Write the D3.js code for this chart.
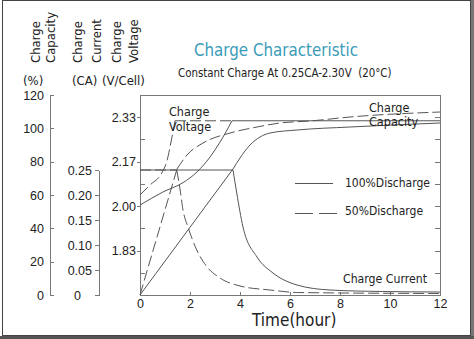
<!DOCTYPE html>
<html lang="en">
<head>
<meta charset="UTF-8">
<title>Charge Characteristic</title>
<style>
	body { margin: 0; background: #fff; }
	svg { display: block; font-family: "DejaVu Sans Condensed", "Liberation Sans", sans-serif; }
	.ax path, .ax line { stroke: #777; shape-rendering: crispEdges; }
	.ax text { fill: #222; font-size: 12.5px; font-family: inherit; }
	.box { fill: none; stroke: #777; shape-rendering: crispEdges; }
	.curve { fill: none; stroke: #555; stroke-width: 1; }
	.dash { stroke-dasharray: 11,4; }
	.lbl { fill: #222; font-size: 12.5px; }
</style>
</head>
<body>
<svg id="chart" width="474" height="339"></svg>
<script src="https://d3js.org/d3.v7.min.js"></script>
<script>
	// tick values
	var timeTicks = [0, 2, 4, 6, 8, 10, 12];
	var capacityTicks = [0, 20, 40, 60, 80, 100, 120];
	var currentTicks = [0, 0.05, 0.10, 0.15, 0.20, 0.25];
	var voltageTicks = [11 / 6, 2, 13 / 6, 7 / 3];      // 1.83 2.00 2.17 2.33
	var voltageMinor = [7 / 4, 23 / 12, 25 / 12, 9 / 4];

	// [hour, value]
	// charge voltage (V/cell)
	var volt100 = [[0, 2.004], [0.92, 2.053], [1.72, 2.088], [2.28, 2.128], [2.8, 2.184], [3.2, 2.24], [3.68, 2.32]];
	var volt100Flat = [[3.68, 2.32], [12, 2.32]];
	var volt50 = [[0, 2.042], [0.4, 2.079], [0.87, 2.124], [1.07, 2.167], [1.27, 2.255], [1.4, 2.32]];
	var volt50Flat = [[1.4, 2.32], [3.68, 2.32]];

	// charge current (CA)
	var cur100Flat = [[0, 0.25], [3.72, 0.25]];
	var cur100 = [[3.72, 0.25], [3.87, 0.204], [4.12, 0.136], [4.68, 0.076], [5.32, 0.044], [6.28, 0.02], [7.6, 0.01], [9.7, 0.007], [12, 0.006]];
	var cur50Flat = [[0, 0.25], [1.47, 0.25]];
	var cur50 = [[1.47, 0.25], [1.6, 0.212], [1.72, 0.17], [1.92, 0.136], [2.27, 0.09], [2.67, 0.057], [3.2, 0.034], [4.0, 0.018], [5.2, 0.01], [6.3, 0.005], [12, 0.003]];

	// charge capacity (%)
	var cap100Rise = [[0, 0], [3.72, 75.6]];
	var cap100 = [[3.72, 75.6], [4.0, 82.2], [4.4, 90], [4.8, 94.8], [5.2, 97.2], [6.28, 99], [8.4, 100.8], [12, 103.2]];
	var cap50Rise = [[0, 0], [1.48, 75.6]];
	var cap50 = [[1.48, 75.6], [1.88, 84], [2.52, 91.2], [3.6, 97.2], [4.68, 100.8], [5.6, 103.2], [6.8, 104.4], [8.4, 106.8], [12, 109.8]];

	(function chart() {
		var svg = d3.select("#chart");

		// frame
		svg.append("rect").attr("x", 0).attr("y", 0).attr("width", 474).attr("height", 339).attr("fill", "#fff");
		svg.append("rect").attr("x", 2.5).attr("y", 0.5).attr("width", 468).attr("height", 335)
			.attr("fill", "none").attr("stroke", "#444");
		svg.append("rect").attr("x", 471).attr("y", 0).attr("width", 3).attr("height", 339).attr("fill", "#777");
		svg.append("rect").attr("x", 0).attr("y", 336).attr("width", 474).attr("height", 3).attr("fill", "#555");

		var pLeft = 140, pRight = 440, pTop = 95, pBottom = 295;

		var x = d3.scaleLinear().domain([0, 12]).range([pLeft, pRight]);
		var yCap = d3.scaleLinear().domain([0, 120]).range([pBottom, pTop]);
		var yCur = d3.scaleLinear().domain([0, 0.25]).range([pBottom, 170]);
		var yVolt = d3.scaleLinear().domain([5 / 3, 29 / 12]).range([pBottom, pTop]);

		// plot box
		svg.append("rect").attr("class", "box")
			.attr("x", pLeft + 0.5).attr("y", pTop + 0.5)
			.attr("width", pRight - pLeft).attr("height", pBottom - pTop);

		// capacity axis
		svg.append("g").attr("class", "ax")
			.attr("transform", "translate(50,0)")
			.call(d3.axisLeft(yCap).tickValues(capacityTicks).tickSizeInner(-4).tickSizeOuter(-4).tickPadding(6));

		// current axis
		var curAxis = svg.append("g").attr("class", "ax")
			.attr("transform", "translate(99,0)")
			.call(d3.axisLeft(yCur).tickValues(currentTicks).tickSizeInner(4).tickSizeOuter(0).tickPadding(3)
				.tickFormat(function(d) { return d === 0 ? "0" : d3.format(".2f")(d); }));
		curAxis.selectAll(".tick text").filter(function(d) { return d === 0; })
			.attr("x", -25).attr("text-anchor", "start");

		// voltage axis on the box edge
		var vAxis = svg.append("g").attr("class", "ax")
			.attr("transform", "translate(" + pLeft + ",0)")
			.call(d3.axisLeft(yVolt).tickValues(voltageTicks).tickSizeInner(3).tickSizeOuter(0).tickPadding(1)
				.tickFormat(d3.format(".2f")));
		vAxis.select(".domain").remove();

		svg.append("g").attr("class", "ax")
			.selectAll("line").data(voltageMinor).enter().append("line")
			.attr("x1", pLeft).attr("x2", pLeft + 5)
			.attr("y1", function(d) { return Math.round(yVolt(d)) + 0.5; })
			.attr("y2", function(d) { return Math.round(yVolt(d)) + 0.5; });

		svg.append("g").attr("class", "ax")
			.selectAll("line").data(voltageTicks.concat(voltageMinor)).enter().append("line")
			.attr("x1", pRight - 5).attr("x2", pRight)
			.attr("y1", function(d) { return Math.round(yVolt(d)) + 0.5; })
			.attr("y2", function(d) { return Math.round(yVolt(d)) + 0.5; });

		// time axis
		var tAxis = svg.append("g").attr("class", "ax")
			.attr("transform", "translate(0," + pBottom + ")")
			.call(d3.axisBottom(x).tickValues(timeTicks).tickSizeInner(-3).tickSizeOuter(0).tickPadding(4));
		tAxis.select(".domain").remove();

		// curves
		var smooth = d3.line()
			.x(function(d) { return x(d[0]); })
			.curve(d3.curveMonotoneX);
		var straight = d3.line()
			.x(function(d) { return x(d[0]); });

		function draw(data, yScale, gen, dashed) {
			svg.append("path")
				.attr("class", dashed ? "curve dash" : "curve")
				.attr("d", gen.y(function(d) { return yScale(d[1]); })(data));
		}

		draw(volt100, yVolt, smooth, false);
		draw(volt100Flat, yVolt, straight, false);
		draw(volt50, yVolt, smooth, true);
		draw(volt50Flat, yVolt, straight, true);

		draw(cur100Flat, yCur, straight, false);
		draw(cur100, yCur, smooth, false);
		draw(cur50Flat, yCur, straight, true);
		draw(cur50, yCur, smooth, true);

		draw(cap100Rise, yCap, straight, false);
		draw(cap100, yCap, smooth, false);
		draw(cap50Rise, yCap, straight, true);
		draw(cap50, yCap, smooth, true);

		// legend
		svg.append("line").attr("class", "curve")
			.attr("x1", 295).attr("x2", 333).attr("y1", 183.5).attr("y2", 183.5);
		svg.append("line").attr("class", "curve").attr("stroke-dasharray", "18,6")
			.attr("x1", 295).attr("x2", 337).attr("y1", 213.5).attr("y2", 213.5);

		function label(txt, px, py, size) {
			return svg.append("text").attr("class", "lbl")
				.attr("x", px).attr("y", py)
				.style("font-size", size + "px")
				.text(txt);
		}

		label("100%Discharge", 345, 187, 12);
		label("50%Discharge", 345, 215, 12);
		label("Charge Current", 343, 283, 12.2);
		label("Charge", 169, 116, 12.5);
		label("Voltage", 169, 131, 12.5);
		label("Charge", 369, 112, 12.5);
		label("Capacity", 369, 126, 12.5);

		// titles
		label("Charge Characteristic", 194, 56, 16.8).style("fill", "#3a9cb8");
		label("Constant Charge At 0.25CA-2.30V  (20\u00b0C)", 178, 77, 11.4).style("white-space", "pre");
		label("Time(hour)", 252, 326, 17);

		// vertical axis headers
		var heads = [["Charge", 40], ["Capacity", 55], ["Charge", 82], ["Current", 101], ["Charge", 121], ["Voltage", 138]];
		svg.selectAll(".head").data(heads).enter().append("text")
			.attr("class", "lbl head")
			.attr("transform", function(d) { return "translate(" + d[1] + ",63) rotate(-90)"; })
			.style("font-size", "13px")
			.text(function(d) { return d[0]; });

		label("(%)", 23, 85, 13);
		label("(CA)", 72, 85, 13);
		label("(V/Cell)", 102, 85, 13);
	})();
</script>
</body>
</html>
